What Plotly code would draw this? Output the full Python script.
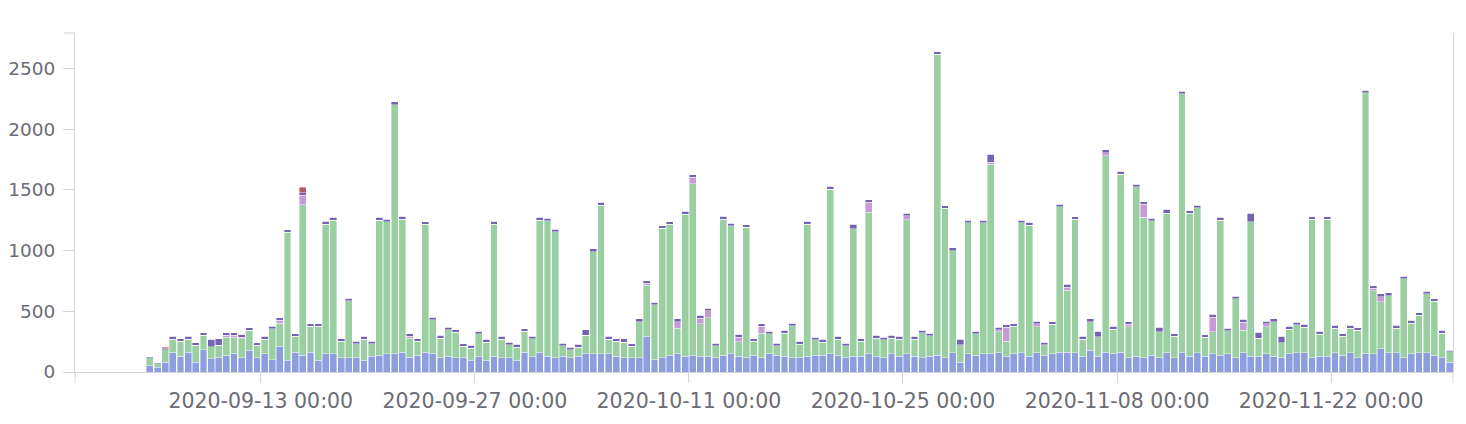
import pandas as pd
import plotly.graph_objects as go

# ---------------- data ----------------
first_bin = "2020-09-05 18:00"   # centre of first 12-hour bin
n_bins = 171
bin_times = pd.date_range(first_bin, periods=n_bins, freq="12h")

totals = [
    125, 75, 205, 293, 274, 293, 241, 323, 268, 274,
    323, 323, 310, 364, 241, 293, 378, 447, 1173, 315,
    1521, 397, 397, 1241, 1274, 274, 608, 255, 293, 255,
    1274, 1260, 2225, 1282, 315, 274, 1238, 452, 301, 370,
    348, 233, 219, 337, 268, 1241, 293, 247, 227, 356,
    296, 1274, 1268, 1178, 238, 205, 227, 348, 1014, 1397,
    293, 274, 274, 233, 438, 753, 575, 1205, 1238, 438,
    1323, 1625, 466, 526, 238, 1282, 1225, 310, 1214, 274,
    397, 337, 238, 342, 403, 252, 1241, 288, 268, 1529,
    293, 238, 1219, 274, 1419, 301, 288, 301, 293, 1310,
    293, 345, 321, 2638, 1370, 1022, 268, 1252, 337, 1252,
    1795, 370, 389, 397, 1252, 1233, 419, 247, 416, 1384,
    721, 1279, 293, 438, 334, 1830, 375, 1652, 416, 1548,
    1403, 1268, 370, 1342, 315, 2315, 1329, 1375, 307, 474,
    1274, 362, 625, 433, 1307, 329, 419, 438, 293, 375,
    411, 392, 1279, 334, 1279, 384, 315, 384, 364, 2323,
    712, 644, 652, 384, 789, 425, 488, 666, 603, 342,
    178,
]

blue = [
    50, 40, 80, 164, 129, 164, 82, 183, 110, 123,
    137, 150, 118, 178, 118, 150, 101, 214, 96, 164,
    137, 164, 96, 150, 150, 118, 118, 118, 96, 129,
    137, 150, 150, 164, 123, 137, 164, 150, 118, 129,
    118, 118, 96, 129, 96, 129, 118, 118, 96, 164,
    129, 164, 129, 118, 129, 118, 129, 150, 150, 150,
    150, 129, 118, 118, 118, 293, 101, 118, 137, 150,
    129, 137, 129, 129, 118, 137, 150, 129, 118, 137,
    118, 150, 137, 129, 118, 118, 129, 137, 137, 150,
    137, 118, 129, 129, 150, 129, 118, 150, 129, 150,
    129, 118, 129, 137, 118, 159, 82, 150, 137, 150,
    150, 159, 129, 150, 159, 129, 159, 137, 150, 164,
    164, 159, 129, 178, 129, 164, 150, 164, 118, 129,
    118, 137, 118, 159, 118, 159, 129, 159, 129, 150,
    137, 150, 118, 159, 129, 129, 150, 129, 118, 150,
    159, 159, 118, 129, 129, 159, 137, 159, 118, 150,
    150, 192, 159, 159, 118, 150, 159, 159, 137, 118,
    82,
]

pink = [
    0, 0, 0, 0, 0, 0, 0, 0, 0, 0,
    15, 15, 15, 0, 0, 0, 0, 25, 0, 0,
    80, 0, 0, 0, 0, 0, 0, 0, 0, 0,
    0, 0, 0, 0, 15, 0, 0, 0, 0, 0,
    0, 0, 0, 0, 0, 0, 0, 0, 0, 0,
    0, 0, 0, 0, 0, 0, 0, 0, 0, 0,
    0, 0, 0, 0, 0, 15, 0, 0, 0, 55,
    0, 50, 45, 55, 0, 0, 0, 40, 0, 0,
    55, 0, 0, 0, 0, 0, 0, 0, 0, 0,
    0, 0, 0, 0, 80, 0, 0, 0, 0, 35,
    0, 0, 0, 0, 0, 0, 0, 0, 0, 0,
    20, 15, 115, 0, 0, 0, 25, 0, 0, 0,
    25, 0, 0, 0, 0, 25, 0, 0, 20, 0,
    105, 0, 0, 0, 0, 0, 0, 0, 0, 120,
    0, 0, 0, 65, 0, 0, 25, 0, 0, 0,
    0, 0, 0, 0, 0, 0, 0, 0, 0, 0,
    20, 45, 0, 0, 0, 0, 0, 0, 0, 0,
    0,
]

purple = [
    8, 8, 10, 22, 22, 22, 22, 22, 60, 55,
    22, 22, 22, 22, 22, 22, 22, 22, 22, 22,
    20, 22, 22, 22, 22, 22, 22, 22, 22, 22,
    22, 22, 22, 22, 22, 22, 22, 22, 22, 22,
    22, 22, 22, 22, 22, 22, 22, 22, 22, 22,
    22, 22, 22, 22, 22, 22, 22, 45, 22, 22,
    22, 22, 30, 22, 22, 22, 22, 22, 22, 22,
    22, 22, 22, 22, 22, 22, 22, 22, 22, 22,
    22, 22, 22, 22, 22, 22, 22, 22, 22, 22,
    22, 22, 40, 22, 22, 22, 22, 22, 22, 22,
    22, 22, 22, 22, 22, 22, 45, 22, 22, 22,
    65, 22, 22, 22, 22, 22, 22, 22, 22, 22,
    22, 22, 22, 22, 45, 22, 22, 22, 22, 22,
    22, 22, 40, 35, 22, 22, 22, 22, 22, 22,
    22, 22, 22, 22, 70, 50, 22, 22, 50, 22,
    22, 22, 22, 22, 22, 22, 22, 22, 22, 22,
    22, 22, 22, 22, 22, 22, 22, 22, 22, 22,
    10,
]

red = [0] * n_bins
red_points = {2: 12, 20: 45}   # 0-based bin index -> value

tick_dates = ["2020-09-13", "2020-09-27", "2020-10-11",
              "2020-10-25", "2020-11-08", "2020-11-22"]
y_ticks = [0, 500, 1000, 1500, 2000, 2500]

for i, v in red_points.items():
    red[i] = v

# green is the remainder of each read stack total
green = [t - b - p - q - r for t, b, p, q, r in zip(totals, blue, pink, purple, red)]

# ---------------- figure ----------------
colors = {
    "blue": "#8d9ede",
    "green": "#9ad0a1",
    "pink": "#c79bd8",
    "purple": "#7462b3",
    "red": "#b25a66",
}
series = [("blue", blue), ("green", green), ("pink", pink), ("purple", purple), ("red", red)]

bar_w = 12 * 3600 * 1000 * 0.9

fig = go.Figure()
for name, vals in series:
    fig.add_trace(go.Bar(
        x=bin_times, y=vals, name=name,
        width=bar_w,
        marker=dict(color=colors[name], line=dict(color="white", width=0.4)),
        showlegend=False,
    ))

axis_col = "#d4d4d8"
font_col = "#6c6c74"

# page body has an 8px margin, so the figure is sized to fit the window
fig.update_layout(
    width=1458, height=416,
    margin=dict(l=67, r=13, t=25, b=52),
    barmode="stack",
    paper_bgcolor="white", plot_bgcolor="white",
    font=dict(family="DejaVu Sans", size=20.5, color=font_col),
)
fig.update_xaxes(
    type="date",
    range=["2020-08-31 20:24", "2020-11-29 23:17"],
    tickvals=tick_dates, tickformat="%Y-%m-%d %H:%M",
    showgrid=False, zeroline=False,
    showline=True, linecolor=axis_col, linewidth=1,
    ticks="outside", ticklen=10, tickcolor=axis_col,
    automargin=False,
)
fig.update_yaxes(
    range=[0, 2793],
    tickvals=y_ticks,
    tickfont=dict(size=18.5),
    showgrid=False, zeroline=False,
    showline=True, linecolor=axis_col, linewidth=1, mirror=True,
    ticks="outside", ticklen=11, tickcolor=axis_col,
    ticklabelstandoff=4,
    automargin=False,
)

# axis end ticks (decorative)
fig.add_shape(type="line", xref="paper", yref="paper", x0=0, x1=0, y0=0, y1=-0.033,
              line=dict(color=axis_col, width=1))
fig.add_shape(type="line", xref="paper", yref="paper", x0=1, x1=1, y0=0, y1=-0.033,
              line=dict(color=axis_col, width=1))
fig.add_shape(type="line", xref="paper", yref="paper", x0=-0.008, x1=0, y0=1, y1=1,
              line=dict(color=axis_col, width=1))

fig.write_html("out.html")
